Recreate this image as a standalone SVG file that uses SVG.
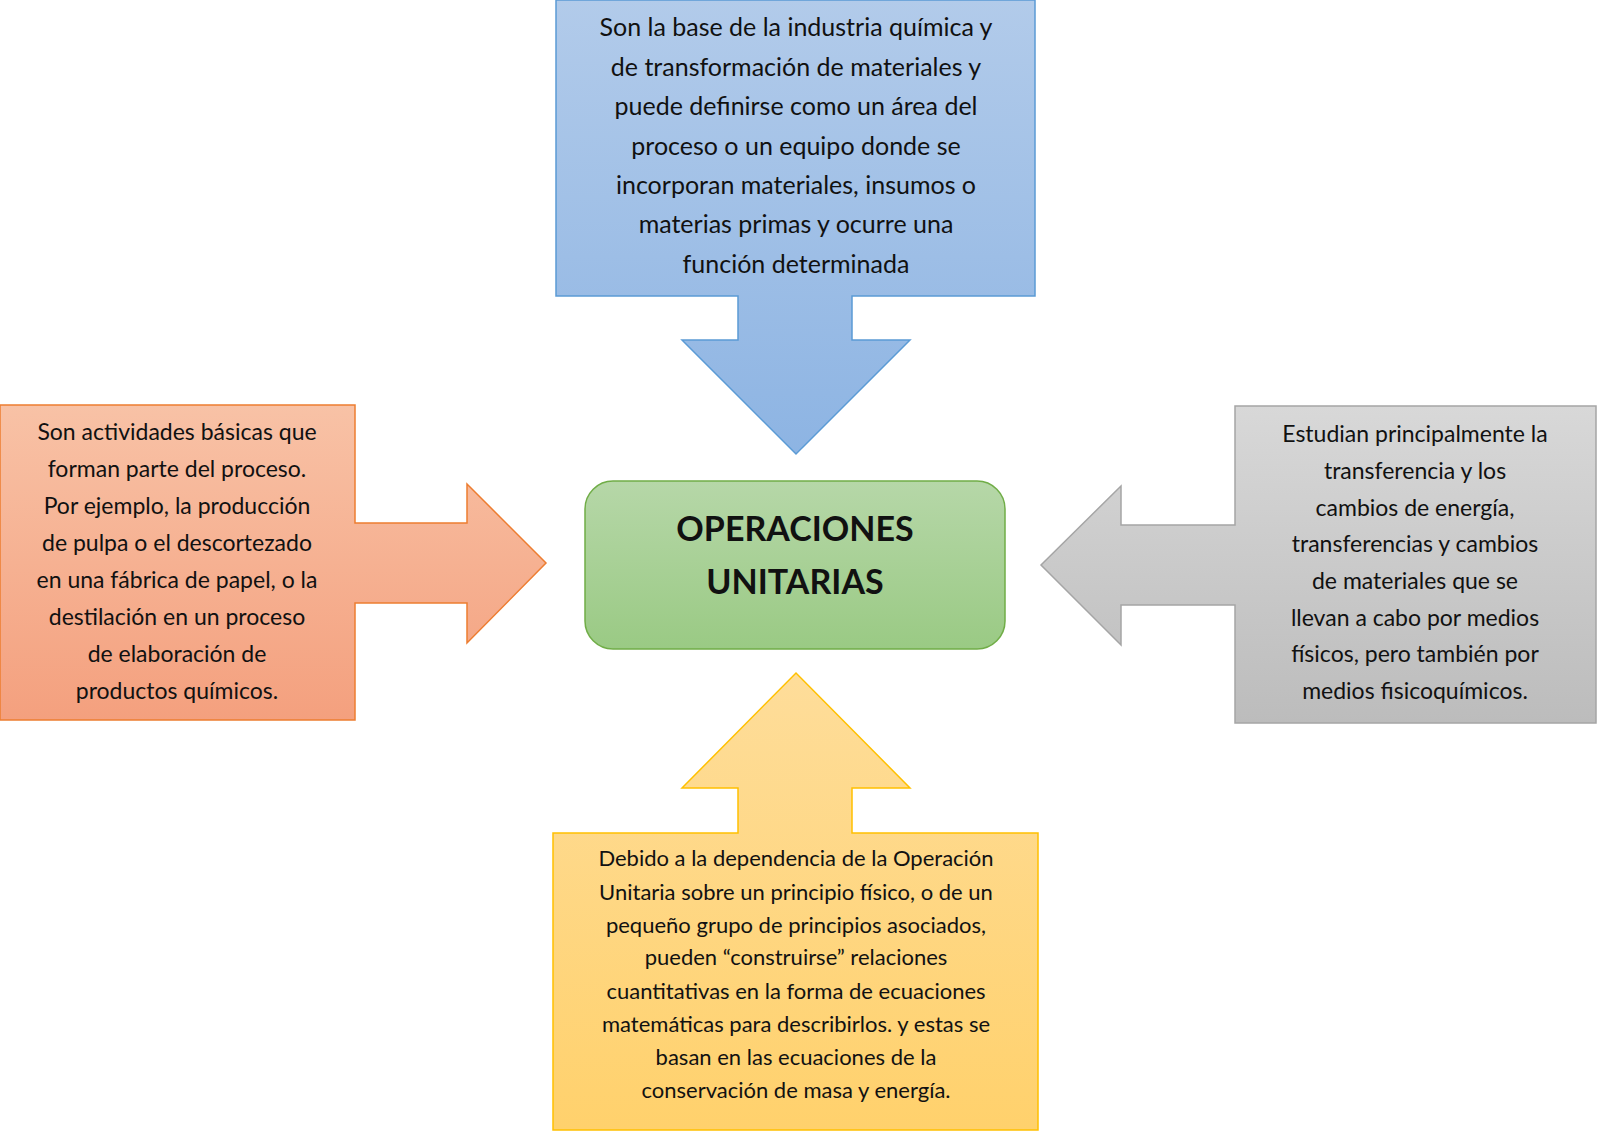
<svg xmlns="http://www.w3.org/2000/svg" width="1600" height="1134" viewBox="0 0 1600 1134">
<defs>
<linearGradient id="gb" x1="0" y1="0" x2="0" y2="1"><stop offset="0" stop-color="#b2cbea"/><stop offset="1" stop-color="#8db4e3"/></linearGradient>
<linearGradient id="gg" x1="0" y1="0" x2="0" y2="1"><stop offset="0" stop-color="#b6d7a8"/><stop offset="1" stop-color="#9aca84"/></linearGradient>
<linearGradient id="go" x1="0" y1="0" x2="0" y2="1"><stop offset="0" stop-color="#f8c2a6"/><stop offset="1" stop-color="#f4a07e"/></linearGradient>
<linearGradient id="gy" x1="0" y1="0" x2="0" y2="1"><stop offset="0" stop-color="#fedd9a"/><stop offset="1" stop-color="#ffd16c"/></linearGradient>
<linearGradient id="gs" x1="0" y1="0" x2="0" y2="1"><stop offset="0" stop-color="#d8d8d8"/><stop offset="1" stop-color="#bcbcbc"/></linearGradient>
</defs>
<style>
text{font-family:Lato,"Open Sans","Noto Sans",sans-serif;fill:#111;text-anchor:middle}
.t{font-size:25px}.s{font-size:23px}.b{font-size:22px}
.c{font-size:34px;font-weight:bold}
</style>
<rect width="1600" height="1134" fill="#fff"/>
<g id="top">
<path d="M556 0H1035V296H852V340H910L796 454L682 340H738V296H556Z" fill="url(#gb)" stroke="#5b9bd5" stroke-width="1.5"/>
<text class="t" x="796" y="36">Son la base de la industria química y</text>
<text class="t" x="796" y="76">de transformación de materiales y</text>
<text class="t" x="796" y="115">puede definirse como un área del</text>
<text class="t" x="796" y="155">proceso o un equipo donde se</text>
<text class="t" x="796" y="194">incorporan materiales, insumos o</text>
<text class="t" x="796" y="233">materias primas y ocurre una</text>
<text class="t" x="796" y="273">función determinada</text>
</g>
<g id="center">
<rect x="585" y="481" width="420" height="168" rx="28" fill="url(#gg)" stroke="#70ad47" stroke-width="1.5"/>
<text class="c" x="795" y="541">OPERACIONES</text>
<text class="c" x="795" y="594">UNITARIAS</text>
</g>
<g id="left">
<path d="M0 405H355V523H467V484L546 563L467 643V603H355V720H0Z" fill="url(#go)" stroke="#ed7d31" stroke-width="1.5"/>
<text class="s" x="177" y="440">Son actividades básicas que</text>
<text class="s" x="177" y="477">forman parte del proceso.</text>
<text class="s" x="177" y="514">Por ejemplo, la producción</text>
<text class="s" x="177" y="551">de pulpa o el descortezado</text>
<text class="s" x="177" y="588">en una fábrica de papel, o la</text>
<text class="s" x="177" y="625">destilación en un proceso</text>
<text class="s" x="177" y="662">de elaboración de</text>
<text class="s" x="177" y="699">productos químicos.</text>
</g>
<g id="right">
<path d="M1596 406H1235V525H1121V486L1041 565L1121 645V605H1235V723H1596Z" fill="url(#gs)" stroke="#a5a5a5" stroke-width="1.5"/>
<text class="s" x="1415" y="442">Estudian principalmente la</text>
<text class="s" x="1415" y="479">transferencia y los</text>
<text class="s" x="1415" y="516">cambios de energía,</text>
<text class="s" x="1415" y="552">transferencias y cambios</text>
<text class="s" x="1415" y="589">de materiales que se</text>
<text class="s" x="1415" y="626">llevan a cabo por medios</text>
<text class="s" x="1415" y="662">físicos, pero también por</text>
<text class="s" x="1415" y="699">medios fisicoquímicos.</text>
</g>
<g id="bottom">
<path d="M553 833H738V788H682L796 673L910 788H852V833H1038V1130H553Z" fill="url(#gy)" stroke="#ffc000" stroke-width="1.5"/>
<text class="b" x="796" y="866">Debido a la dependencia de la Operación</text>
<text class="b" x="796" y="900">Unitaria sobre un principio físico, o de un</text>
<text class="b" x="796" y="933">pequeño grupo de principios asociados,</text>
<text class="b" x="796" y="965">pueden “construirse” relaciones</text>
<text class="b" x="796" y="999">cuantitativas en la forma de ecuaciones</text>
<text class="b" x="796" y="1032">matemáticas para describirlos. y estas se</text>
<text class="b" x="796" y="1065">basan en las ecuaciones de la</text>
<text class="b" x="796" y="1098">conservación de masa y energía.</text>
</g>
<g id="connectors"/>
</svg>
